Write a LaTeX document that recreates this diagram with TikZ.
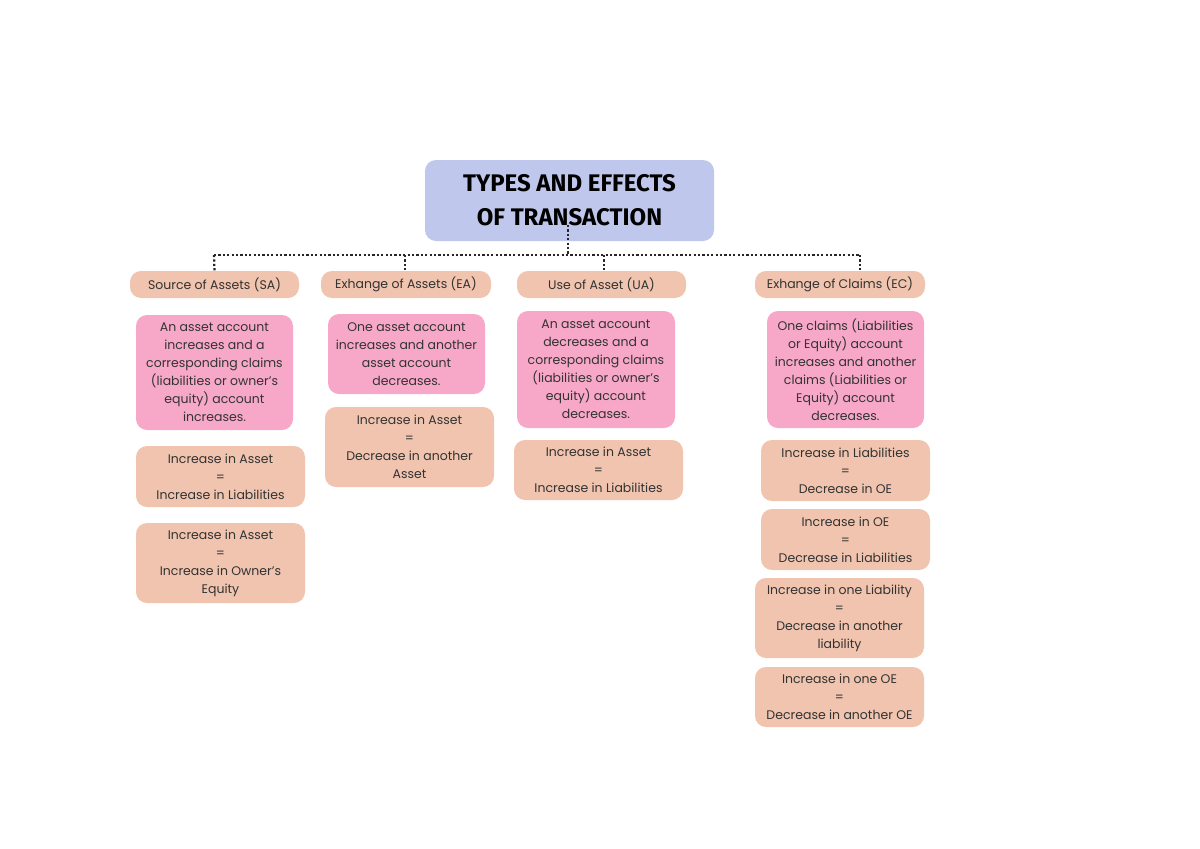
\documentclass[tikz,border=0pt]{standalone}
\usepackage{fontspec}
\setmainfont{Poppins}
\newfontfamily\titlefont{Fira Sans}
\definecolor{lav}{HTML}{BFC8EC}
\definecolor{sal}{HTML}{F0C4AE}
\definecolor{pnk}{HTML}{F7A8C8}
\definecolor{txt}{HTML}{333333}
\begin{document}
\begin{tikzpicture}[x=1pt,y=-1pt,
  bx/.style={rounded corners=11pt,inner sep=0pt,align=center,text=txt,font=\fontsize{12.5}{18}\selectfont},
  dot/.style={line width=2.2pt,dash pattern=on 2.2pt off 2.2pt,draw=black!85}]
\useasboundingbox[fill=white] (0,0) rectangle (1200,849);
\newcommand\bxx[6]{\node[bx,fill=#6,minimum width=#3-#2,minimum height=#5-#4] (#1) at ({(#2+#3)/2},{(#4+#5)/2}) {};}
\bxx{title}{425}{714}{160}{241}{lav}
\node[font=\titlefont\bfseries\fontsize{24}{34}\selectfont,align=center] (tt) at (title) {TYPES AND EFFECTS\\OF TRANSACTION};
\bxx{sa}{130}{299}{271}{298}{sal}
\bxx{ea}{321}{491}{271}{298}{sal}
\bxx{ua}{517}{686}{271}{298}{sal}
\bxx{ec}{755}{925}{271}{298}{sal}
\bxx{p1}{136}{293}{315}{430}{pnk}
\bxx{p2}{328}{485}{314}{394}{pnk}
\bxx{p3}{517}{675}{311}{428}{pnk}
\bxx{p4}{767}{924}{311}{428}{pnk}
\bxx{s1}{136}{305}{446}{507}{sal}
\bxx{s2}{136}{305}{523}{603}{sal}
\bxx{s3}{325}{494}{407}{487}{sal}
\bxx{s4}{514}{683}{440}{500}{sal}
\bxx{s5}{761}{930}{440}{501}{sal}
\bxx{s6}{761}{930}{509}{570}{sal}
\bxx{s7}{755}{924}{578}{658}{sal}
\bxx{s8}{755}{924}{667}{727}{sal}
\foreach \n/\t in {sa/Source of Assets (SA),ea/Exhange of Assets (EA),ua/Use of Asset (UA),ec/Exhange of Claims (EC),
 p1/{An asset account\\increases and a\\corresponding claims\\(liabilities or owner's\\equity) account\\increases.},
 p2/{One asset account\\increases and another\\asset account\\decreases.},
 p3/{An asset account\\decreases and a\\corresponding claims\\(liabilities or owner's\\equity) account\\decreases.},
 p4/{One claims (Liabilities\\or Equity) account\\increases and another\\claims (Liabilities or\\Equity) account\\decreases.},
 s1/{Increase in Asset\\=\\Increase in Liabilities},
 s2/{Increase in Asset\\=\\Increase in Owner's\\Equity},
 s3/{Increase in Asset\\=\\Decrease in another\\Asset},
 s4/{Increase in Asset\\=\\Increase in Liabilities},
 s5/{Increase in Liabilities\\=\\Decrease in OE},
 s6/{Increase in OE\\=\\Decrease in Liabilities},
 s7/{Increase in one Liability\\=\\Decrease in another\\liability},
 s8/{Increase in one OE\\=\\Decrease in another OE}}
 \node[bx] at (\n) {\t};
\coordinate (hl) at (214,255);
\coordinate (hr) at (860,255);
\draw[dot] (568,225) -- (568,255);
\draw[dot] (hl) -- (hr);
\draw[dot] (hl) -- (sa.north);
\draw[dot] (405,255) -- (405,271);
\draw[dot] (604,255) -- (604,271);
\draw[dot] (hr) -- (860,271);
\end{tikzpicture}
\end{document}
